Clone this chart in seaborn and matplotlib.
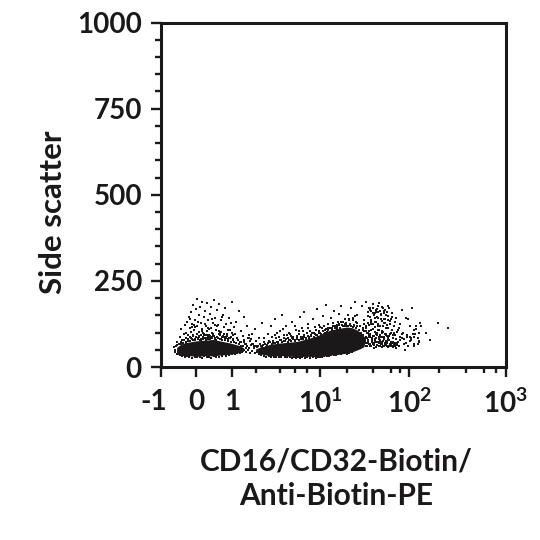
import matplotlib
matplotlib.use("Agg")
import matplotlib.pyplot as plt
import matplotlib.transforms as mtransforms
import seaborn as sns

# x axis is in display channels (0-1000) since the scale is biexponential
tick_major_ch = [0, 102, 206, 461, 720, 1000]
tick_major_lab = ["-1", "0", "1", "$\\mathregular{10^{1}}$", "$\\mathregular{10^{2}}$", "$\\mathregular{10^{3}}$"]
tick_minor_ch = [276, 345, 389, 423, 539, 615, 667, 693, 807, 886, 938, 973]
y_major = [0, 250, 500, 750, 1000]
y_minor = [50, 100, 150, 200, 300, 350, 400, 450, 550, 600, 650, 700, 800, 850, 900, 950]

# solid black masses of events
core1_x = [46, 50, 62, 80, 104, 130, 152, 175, 200, 229, 240]
core1_low = [42, 36, 33, 33, 31, 33, 32, 35, 37, 42, 46]
core1_high = [56, 60, 68, 72, 76, 78, 80, 75, 70, 62, 56]
core2_x = [275, 288, 300, 317, 350, 394, 425, 452, 475, 491, 515, 539, 555, 568, 580, 590]
core2_low = [46, 38, 36, 32, 33, 30, 31, 30, 32, 35, 37, 40, 44, 49, 54, 60]
core2_high = [52, 58, 60, 66, 70, 74, 82, 90, 100, 107, 112, 116, 114, 108, 100, 88]

# scattered events above and around the masses
left_x = [38, 42, 47, 52, 55, 58, 60, 63, 65, 68, 70, 72, 74, 76, 78, 80, 82, 84, 85, 87, 88, 90, 92, 93, 95, 96, 98, 100, 101, 103, 105, 106, 108, 110, 111, 113, 115, 116, 118, 120, 121, 123, 125, 126, 128, 130, 131, 133, 135, 136, 138, 140, 142, 143, 145, 147, 148, 150, 152, 154, 155, 157, 159, 160, 162, 164, 166, 168, 170, 172, 174, 176, 178, 180, 182, 184, 186, 188, 190, 193, 196, 198, 201, 204, 207, 210, 213, 216, 219, 222, 226, 230, 234, 238, 242, 246, 250, 255, 260, 265, 270, 72, 86, 94, 99, 107, 112, 119, 127, 134, 141, 149, 156, 163, 171, 179, 187, 195, 203, 211, 100, 105, 110, 118, 125, 132, 144, 151, 165, 177, 185, 197, 90, 97, 122, 137, 158, 169, 183, 208]
left_y = [58, 44, 72, 49, 88, 66, 110, 78, 52, 97, 121, 70, 84, 130, 92, 75, 145, 88, 112, 101, 160, 80, 126, 94, 181, 108, 77, 137, 168, 88, 119, 198, 84, 150, 102, 174, 79, 128, 93, 190, 111, 82, 146, 97, 163, 78, 120, 105, 186, 86, 136, 92, 155, 80, 114, 175, 99, 83, 128, 195, 90, 142, 79, 108, 166, 87, 121, 96, 184, 81, 135, 103, 78, 152, 91, 117, 172, 84, 126, 95, 80, 143, 106, 88, 188, 78, 115, 97, 130, 83, 162, 72, 105, 90, 145, 68, 120, 84, 75, 96, 62, 100, 140, 90, 115, 132, 86, 105, 125, 94, 110, 138, 82, 118, 99, 144, 87, 108, 128, 92, 82, 95, 88, 78, 92, 84, 86, 92, 84, 88, 80, 84, 116, 122, 100, 112, 122, 104, 96, 100]
mid_x = [232, 240, 248, 256, 264, 272, 280, 285, 290, 295, 300, 305, 310, 315, 320, 325, 330, 335, 340, 345, 350, 352, 356, 360, 364, 368, 372, 376, 380, 384, 388, 392, 396, 400, 403, 406, 410, 413, 416, 420, 423, 426, 430, 433, 436, 440, 443, 446, 450, 453, 456, 460, 463, 466, 470, 473, 476, 480, 483, 486, 490, 493, 496, 500, 503, 506, 510, 513, 516, 520, 523, 526, 530, 533, 536, 540, 543, 546, 550, 553, 556, 560, 563, 566, 330, 342, 354, 366, 378, 390, 402, 414, 426, 438, 450, 462, 474, 486, 498, 510, 522, 534, 546, 558, 570, 380, 395, 412, 428, 444, 458, 468, 478, 488, 502, 518, 528, 538, 548, 564, 300, 322, 338, 358, 374, 240, 252, 268, 276, 262]
mid_y = [60, 78, 56, 92, 66, 110, 58, 84, 62, 128, 72, 58, 96, 76, 118, 70, 138, 84, 74, 105, 78, 152, 92, 76, 118, 85, 100, 78, 132, 88, 76, 108, 82, 96, 145, 80, 112, 86, 160, 78, 98, 126, 84, 104, 90, 138, 82, 115, 94, 168, 88, 122, 100, 92, 148, 96, 108, 180, 102, 125, 98, 142, 112, 105, 162, 118, 110, 132, 155, 114, 178, 122, 118, 140, 128, 120, 152, 135, 124, 170, 142, 120, 188, 130, 92, 88, 110, 94, 90, 118, 105, 92, 112, 100, 108, 115, 120, 112, 128, 122, 132, 126, 140, 135, 128, 84, 90, 104, 90, 100, 104, 112, 100, 114, 118, 124, 130, 118, 122, 148, 84, 88, 100, 84, 96, 72, 84, 66, 76, 80]
right_x = [570, 574, 578, 580, 583, 586, 588, 590, 592, 594, 596, 598, 600, 602, 604, 606, 608, 610, 612, 614, 616, 618, 620, 622, 624, 626, 628, 630, 632, 634, 636, 638, 640, 642, 644, 646, 648, 650, 652, 654, 656, 658, 660, 662, 664, 666, 668, 670, 672, 675, 678, 680, 683, 686, 689, 692, 695, 698, 702, 706, 710, 714, 718, 722, 726, 730, 735, 740, 745, 750, 755, 585, 590, 595, 600, 605, 610, 615, 620, 625, 630, 635, 640, 645, 650, 655, 660, 665, 670, 675, 585, 592, 598, 603, 608, 613, 618, 623, 628, 633, 638, 643, 648, 653, 658, 663, 668, 673, 678, 683, 688, 693, 590, 596, 602, 607, 612, 617, 622, 627, 632, 637, 642, 647, 652, 657, 662, 667, 672, 677, 682, 600, 606, 611, 616, 621, 626, 631, 636, 641, 646, 651, 656, 661, 586, 594, 604, 614, 624, 634, 644, 654, 664, 674, 684, 694, 704, 714, 724, 734, 608, 618, 628, 638, 648, 658, 668, 610, 620, 630, 640, 650, 660, 670, 680, 690, 700]
right_y = [150, 72, 120, 58, 178, 92, 66, 135, 80, 188, 105, 62, 148, 78, 172, 96, 60, 125, 84, 182, 110, 56, 142, 76, 160, 98, 64, 120, 86, 185, 72, 138, 58, 104, 170, 82, 128, 68, 150, 92, 62, 114, 178, 78, 134, 60, 100, 158, 74, 118, 64, 92, 142, 70, 108, 60, 126, 84, 100, 68, 142, 88, 60, 120, 78, 96, 66, 110, 84, 74, 118, 112, 124, 118, 128, 122, 132, 126, 116, 130, 124, 120, 134, 118, 128, 122, 112, 126, 106, 98, 90, 84, 98, 86, 92, 82, 90, 84, 94, 80, 88, 76, 86, 96, 78, 90, 74, 84, 70, 80, 72, 78, 74, 70, 78, 68, 74, 66, 72, 64, 70, 62, 68, 60, 66, 72, 62, 68, 58, 64, 56, 160, 170, 164, 172, 158, 168, 176, 162, 174, 156, 166, 160, 172, 106, 112, 104, 110, 100, 108, 102, 114, 96, 92, 102, 88, 80, 94, 76, 86, 146, 150, 144, 152, 140, 148, 138, 136, 130, 142, 134, 140, 136, 146, 132, 112, 96]
tail_x = [700, 708, 716, 722, 728, 735, 741, 748, 750, 738, 745, 752, 725, 733, 710, 804, 832, 770, 782]
tail_y = [165, 50, 138, 88, 172, 62, 118, 75, 100, 96, 66, 128, 84, 108, 70, 127, 113, 100, 78]
# rough edges of the masses and the bridge between them
edge_x = [40, 43, 46, 48, 51, 53, 56, 59, 62, 65, 68, 71, 74, 77, 80, 83, 86, 89, 92, 95, 98, 101, 104, 107, 110, 113, 116, 119, 122, 125, 128, 131, 134, 137, 140, 143, 146, 149, 152, 155, 158, 161, 164, 167, 170, 173, 176, 179, 182, 185, 188, 191, 194, 197, 200, 203, 206, 209, 212, 215, 218, 221, 224, 227, 230, 233, 236, 239, 242, 245, 248, 251, 254, 257, 260, 263, 266, 269, 272, 275, 278, 281, 284, 287, 290, 293, 296, 299, 302, 305, 308, 311, 314, 317, 320, 323, 326, 329, 332, 335, 338, 341, 344, 347, 350, 353, 356, 359, 362, 365, 368, 371, 374, 377, 380, 383, 386, 389, 392, 395, 398, 401, 404, 407, 410, 413, 416, 419, 422, 425, 428, 431, 434, 437, 440, 443, 446, 449, 452, 455, 458, 461, 464, 467, 470, 473, 476, 479, 482, 485, 488, 491, 494, 497, 500, 503, 506, 509, 512, 515, 518, 521, 524, 527, 530, 533, 536, 539, 542, 545, 548, 551, 554, 557, 560, 563, 566, 569, 572, 575]
edge_y = [48, 60, 39, 63, 44, 68, 36, 72, 31, 70, 77, 29, 74, 31, 80, 28, 76, 84, 27, 78, 30, 86, 28, 80, 90, 29, 82, 27, 88, 31, 84, 93, 28, 82, 30, 90, 27, 86, 95, 31, 84, 29, 88, 83, 30, 92, 82, 31, 86, 78, 33, 90, 76, 34, 84, 72, 37, 80, 74, 38, 70, 41, 78, 66, 42, 72, 44, 62, 48, 68, 44, 60, 50, 56, 42, 64, 46, 54, 40, 60, 44, 62, 37, 66, 35, 58, 63, 33, 68, 30, 64, 70, 31, 72, 29, 68, 76, 30, 70, 28, 74, 66, 30, 78, 29, 72, 76, 28, 80, 30, 74, 78, 28, 76, 27, 82, 29, 78, 27, 84, 28, 78, 26, 86, 29, 82, 88, 27, 84, 28, 90, 86, 27, 92, 28, 88, 96, 27, 94, 30, 100, 28, 96, 30, 104, 31, 100, 110, 32, 106, 33, 112, 34, 108, 118, 36, 112, 35, 116, 38, 122, 112, 38, 120, 40, 118, 124, 38, 120, 42, 126, 118, 44, 116, 122, 48, 112, 120, 52, 108]
# darker patches inside the right hand cloud
patch_x = [580, 585, 590, 595, 600, 605, 610, 615, 620, 625, 630, 635, 640, 645, 650, 655, 660, 582, 587, 592, 597, 602, 607, 612, 617, 622, 627, 632, 637, 642, 647, 652, 657, 662, 667, 584, 589, 594, 599, 604, 609, 614, 619, 624, 629, 634, 639, 644, 649, 654, 659, 664, 669, 674, 679, 684, 601, 608, 616, 624, 631, 639, 646]
patch_y = [98, 92, 104, 88, 100, 94, 106, 90, 102, 96, 108, 92, 100, 86, 96, 90, 84, 80, 88, 76, 84, 72, 86, 78, 70, 82, 74, 88, 78, 72, 84, 76, 70, 78, 72, 66, 74, 62, 70, 66, 60, 68, 64, 58, 72, 62, 66, 60, 70, 64, 58, 66, 62, 70, 60, 64, 160, 165, 158, 166, 160, 154, 162]

sns.set_style("ticks")
plt.rcParams["font.family"] = ["Lato", "DejaVu Sans"]
plt.rcParams["font.weight"] = "bold"
plt.rcParams["mathtext.fontset"] = "custom"
plt.rcParams["mathtext.rm"] = "Lato:bold"

ink = "#1a1818"
fig = plt.figure(figsize=(5.4, 5.4), dpi=100)
ax = fig.add_axes([160.7 / 540, 1 - 367 / 540, 345 / 540, 344.5 / 540])

ax.fill_between(core1_x, core1_low, core1_high, color=ink, linewidth=0)
ax.fill_between(core2_x, core2_low, core2_high, color=ink, linewidth=0)
for xs, ys in [(left_x, left_y), (mid_x, mid_y), (right_x, right_y), (tail_x, tail_y), (edge_x, edge_y), (patch_x, patch_y)]:
    sns.scatterplot(x=xs, y=ys, ax=ax, color=ink, s=1.5, marker="s", linewidth=0)

ax.set_xlim(0, 1000)
ax.set_ylim(0, 1000)
ax.set_xticks(tick_major_ch)
ax.set_xticklabels(tick_major_lab)
ax.set_xticks(tick_minor_ch, minor=True)
ax.set_yticks(y_major)
ax.set_yticks(y_minor, minor=True)
ax.tick_params(axis="both", which="major", length=7.5, width=1.7, color=ink, labelsize=20, labelcolor=ink)
ax.tick_params(axis="both", which="minor", length=4.5, width=1.7, color=ink)
ax.tick_params(axis="x", which="major", pad=8)
ax.tick_params(axis="y", which="major", pad=6)
for side in ax.spines.values():
    side.set_linewidth(2.2)
    side.set_color(ink)

# the -1 label sits a little left of its tick
first = ax.get_xticklabels()[0]
first.set_transform(first.get_transform() + mtransforms.ScaledTranslation(-7 / 100, 0, fig.dpi_scale_trans))

fig.text(53 / 540, 1 - 212 / 540, "Side scatter", rotation=90, ha="center", va="center", fontsize=22.5, color=ink)
fig.text(336 / 540, 1 - 479 / 540, "CD16/CD32-Biotin/\nAnti-Biotin-PE", ha="center", va="center", fontsize=21.5, color=ink, linespacing=1.3)

fig.savefig("out.png", dpi=100)
